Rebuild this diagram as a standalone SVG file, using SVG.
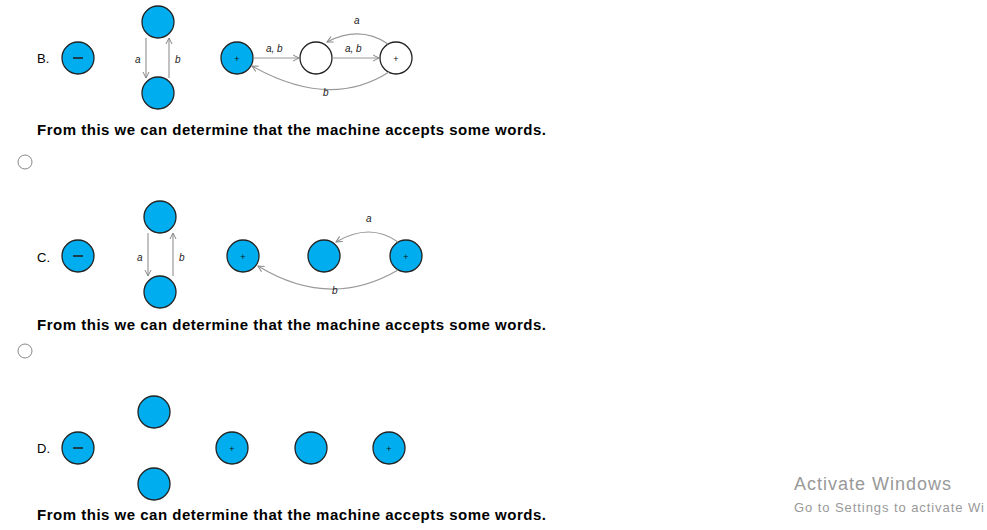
<svg xmlns="http://www.w3.org/2000/svg" width="987" height="530" viewBox="0 0 987 530">
<style>
.n{fill:#00aeef;stroke:#222;stroke-width:1.3}
.w{fill:#fff;stroke:#222;stroke-width:1.3}
.e{fill:none;stroke:#999;stroke-width:1.2;marker-end:url(#ar)}
.l{font-family:"Liberation Sans",Arial,sans-serif;font-size:10px;font-style:italic;fill:#222}
.s{font-family:"Liberation Sans",Arial,sans-serif;font-size:9px;fill:#111;text-anchor:middle}
.m{stroke:#222;stroke-width:1.6}
.t{font-family:"Liberation Sans",Arial,sans-serif;font-size:15px;font-weight:bold;fill:#000}
.k{font-family:"Liberation Sans",Arial,sans-serif;font-size:13px;fill:#000}
.r{fill:#fff;stroke:#888;stroke-width:1}
</style>
<defs><marker id="ar" markerWidth="8" markerHeight="8" refX="7" refY="4" orient="auto" markerUnits="userSpaceOnUse"><path d="M1,1 L7,4 L1,7" fill="none" stroke="#888" stroke-width="1"/></marker></defs>
<rect width="987" height="530" fill="#fff"/>
<text class="k" x="37" y="63">B.</text>
<g id="B"><circle class="n" cx="78" cy="58" r="16"/><path class="m" d="M73,58 H83"/>
<circle class="n" cx="158" cy="22" r="16"/><circle class="n" cx="158" cy="93" r="16"/>
<circle class="n" cx="237" cy="58" r="16"/><text class="s" x="237" y="62">+</text>
<circle class="w" cx="316" cy="58" r="16"/><circle class="w" cx="396" cy="58" r="16"/><text class="s" x="396" y="62">+</text></g>
<g id="Bedges"><path class="e" d="M146,38 V78"/><path class="e" d="M169,78 V38"/>
<path class="e" d="M253,58 H299"/><path class="e" d="M332,58 H379"/>
<path class="e" d="M388,44 Q360,25 327,42"/><path class="e" d="M389,72 Q330,110 252,66"/>
<text class="l" x="135" y="63">a</text><text class="l" x="175" y="63">b</text>
<text class="l" x="266" y="52">a, b</text><text class="l" x="345" y="52">a, b</text>
<text class="l" x="354" y="24">a</text><text class="l" x="323" y="96">b</text></g>
<text class="t" x="37" y="135" textLength="509">From this we can determine that the machine accepts some words.</text>
<circle class="r" cx="25" cy="162" r="7"/>
<text class="k" x="37" y="262">C.</text>
<g id="C"><circle class="n" cx="78" cy="256" r="16"/><path class="m" d="M73,256 H83"/>
<circle class="n" cx="160" cy="217" r="16"/><circle class="n" cx="160" cy="292" r="16"/>
<circle class="n" cx="243" cy="256" r="16"/><text class="s" x="243" y="260">+</text>
<circle class="n" cx="324" cy="256" r="16"/><circle class="n" cx="406" cy="256" r="16"/><text class="s" x="406" y="260">+</text></g>
<g id="Cedges"><path class="e" d="M148,233 V276"/><path class="e" d="M173,276 V233"/>
<path class="e" d="M398,242 Q370,222 336,242"/><path class="e" d="M398,270 Q330,310 258,266"/>
<text class="l" x="137" y="261">a</text><text class="l" x="179" y="261">b</text>
<text class="l" x="366" y="222">a</text><text class="l" x="332" y="294">b</text></g>
<text class="t" x="37" y="330" textLength="509">From this we can determine that the machine accepts some words.</text>
<circle class="r" cx="25" cy="351" r="7"/>
<text class="k" x="37" y="453">D.</text>
<g id="D"><circle class="n" cx="78" cy="448" r="16"/><path class="m" d="M73,448 H83"/>
<circle class="n" cx="154" cy="412" r="16"/><circle class="n" cx="154" cy="484" r="16"/>
<circle class="n" cx="232" cy="448" r="16"/><text class="s" x="232" y="452">+</text>
<circle class="n" cx="311" cy="448" r="16"/><circle class="n" cx="389" cy="448" r="16"/><text class="s" x="389" y="452">+</text></g>
<text x="794" y="490" font-family="'Liberation Sans',Arial,sans-serif" font-size="18" fill="#999" textLength="157">Activate Windows</text>
<text x="794" y="512" font-family="'Liberation Sans',Arial,sans-serif" font-size="13" fill="#999" textLength="190">Go to Settings to activate Wi</text>
<text class="t" x="37" y="520" textLength="509">From this we can determine that the machine accepts some words.</text>
</svg>
